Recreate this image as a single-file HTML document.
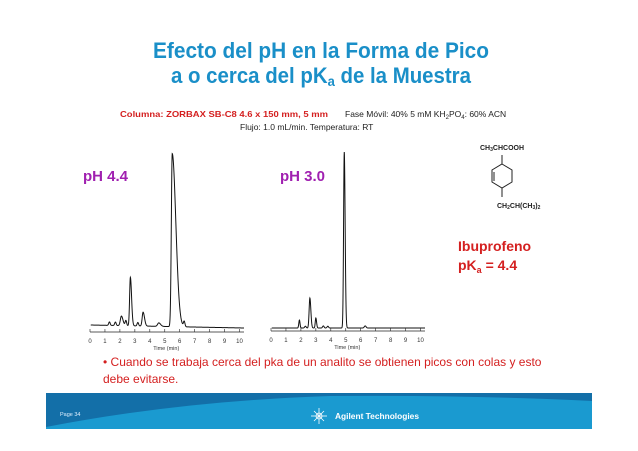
<!DOCTYPE html>
<html><head><meta charset="utf-8"><style>
body{margin:0;background:#fff;}
svg{display:block;font-family:"Liberation Sans",Arial,sans-serif;}
</style></head><body>
<svg id="s" width="638" height="451" viewBox="0 0 638 451" xmlns="http://www.w3.org/2000/svg">
<g fill="#1a8fc8" font-weight="bold" font-size="22" text-anchor="middle">
<text x="321" y="58" textLength="336" lengthAdjust="spacingAndGlyphs">Efecto del pH en la Forma de Pico</text>
<text x="321" y="83" textLength="300" lengthAdjust="spacingAndGlyphs">a o cerca del pK<tspan font-size="14" dy="3">a</tspan><tspan dy="-3"> de la Muestra</tspan></text>
</g>
<g font-size="8.5">
<text x="120" y="117" fill="#d42020" font-weight="bold" textLength="208" lengthAdjust="spacingAndGlyphs">Columna:  ZORBAX SB-C8  4.6 x 150 mm, 5 mm</text>
<text x="345" y="117" fill="#222">Fase Móvil:  40% 5 mM KH<tspan font-size="6" dy="2">2</tspan><tspan dy="-2">PO</tspan><tspan font-size="6" dy="2">4</tspan><tspan dy="-2">: 60% ACN</tspan></text>
<text x="240" y="130" fill="#222">Flujo:  1.0 mL/min.     Temperatura:  RT</text>
</g>
<g><text x="83" y="181" fill="#a020b0" font-weight="bold" font-size="15">pH 4.4</text></g>
<g><text x="280" y="181" fill="#a020b0" font-weight="bold" font-size="15">pH 3.0</text></g>
<g stroke="#222" fill="none" stroke-width="1">
<text x="480" y="150" font-size="7" font-weight="bold" fill="#222" stroke="none">CH<tspan font-size="5" dy="1">3</tspan><tspan dy="-1">CHCOOH</tspan></text>
<line x1="502" y1="155" x2="502" y2="164"/>
<polygon points="502,164 512,170 512,182 502,188 492,182 492,170"/>
<line x1="494" y1="172" x2="494" y2="181"/>
<line x1="502" y1="188" x2="502" y2="197"/>
<text x="497" y="208" font-size="7" font-weight="bold" fill="#222" stroke="none">CH<tspan font-size="5" dy="1">2</tspan><tspan dy="-1">CH(CH</tspan><tspan font-size="5" dy="1">3</tspan><tspan dy="-1">)</tspan><tspan font-size="5" dy="1">2</tspan></text>
</g>
<g fill="#d42020" font-weight="bold" font-size="14">
<text x="458" y="251">Ibuprofeno</text>
<text x="458" y="270">pK<tspan font-size="9" dy="3">a</tspan><tspan dy="-3"> = 4.4</tspan></text>
</g>
<g id="c1"></g>
<g id="c2"></g>
<g fill="#d42020" font-size="12">
<text x="103" y="366">• Cuando se trabaja cerca del pka de un analito se obtienen picos con colas y esto</text>
<text x="103" y="383">debe evitarse.</text>
</g>
<g>
<rect x="46" y="393" width="546" height="36" fill="#1a9ad0"/>
<path d="M46,393 L592,393 L592,401 Q470,395 330,396 Q180,401 46,427 Z" fill="#136fa8"/>
<text x="60" y="416" font-size="5.5" fill="#e0f0ff">Page 34</text>
<g stroke="#fff" stroke-width="0.8"><circle cx="319" cy="416" r="3" fill="none"/><line x1="311" y1="416" x2="327" y2="416"/><line x1="319" y1="408" x2="319" y2="424"/><line x1="314" y1="411" x2="324" y2="421"/><line x1="324" y1="411" x2="314" y2="421"/></g>
<text x="335" y="419" font-size="8" font-weight="bold" fill="#fff" textLength="84" lengthAdjust="spacingAndGlyphs">Agilent Technologies</text>
</g>
</svg>
<script>
// chromatogram data: retention time (min), relative height, width sigma (min), tail factor
const times44 = [1.3, 1.7, 2.1, 2.4, 2.7, 3.2, 3.55, 4.6, 5.5, 6.3];
const heights44 = [0.02, 0.02, 0.055, 0.03, 0.28, 0.02, 0.08, 0.02, 1.0, 0.03];
const widths44 = [0.05, 0.05, 0.07, 0.05, 0.05, 0.05, 0.06, 0.08, 0.06, 0.05];
const tails44 = [1, 1, 1.5, 1, 1.6, 1, 1.6, 1.5, 4, 1];
const times30 = [1.9, 2.3, 2.6, 3.0, 3.5, 3.8, 4.9, 6.3];
const heights30 = [0.045, 0.01, 0.17, 0.057, 0.012, 0.01, 1.0, 0.012];
const widths30 = [0.04, 0.05, 0.05, 0.04, 0.05, 0.05, 0.045, 0.06];
const tails30 = [1, 1, 1.3, 1.2, 1, 1, 1.3, 1];
const xTicks = [0,1,2,3,4,5,6,7,8,9,10];
const NS='http://www.w3.org/2000/svg';
function chart(g, x0, x1, base0, base1, top, axisY, times, heights, widths, tails){
  const sx = t => x0 + (x1-x0)*t/10.3;
  const h = base0 - top;
  let d='';
  for(let t=0.05;t<=10.3;t+=0.01){
    let v=0;
    for(let i=0;i<times.length;i++){
      const dt=t-times[i];
      const s = dt<0 ? widths[i] : widths[i]*tails[i];
      v+=heights[i]*Math.exp(-dt*dt/(2*s*s));
    }
    const b = base0+(base1-base0)*t/10.3;
    d+=(d?'L':'M')+sx(t).toFixed(2)+','+(b - v*h).toFixed(2);
  }
  const p=document.createElementNS(NS,'path');
  
  
  p.setAttribute('d',d);p.setAttribute('fill','none');p.setAttribute('stroke','#111');p.setAttribute('stroke-width','1');
  g.appendChild(p);
  const ax=document.createElementNS(NS,'line');
  
  
  ax.setAttribute('x1',sx(0));ax.setAttribute('x2',sx(10.3));ax.setAttribute('y1',axisY);ax.setAttribute('y2',axisY);
  ax.setAttribute('stroke','#222');ax.setAttribute('stroke-width','0.8');
  g.appendChild(ax);
  xTicks.forEach(v=>{
    const tk=document.createElementNS(NS,'line');
    
    
    tk.setAttribute('x1',sx(v));tk.setAttribute('x2',sx(v));tk.setAttribute('y1',axisY);tk.setAttribute('y2',axisY-3);
    tk.setAttribute('stroke','#222');tk.setAttribute('stroke-width','0.6');
    g.appendChild(tk);
    const tx=document.createElementNS(NS,'text');
    
    
    tx.setAttribute('x',sx(v));tx.setAttribute('y',axisY+11);tx.setAttribute('font-size','6');
    tx.setAttribute('text-anchor','middle');tx.setAttribute('fill','#333');tx.textContent=v;
    g.appendChild(tx);
  });
  const tt=document.createElementNS(NS,'text');
  
  
  tt.setAttribute('x',sx(5.1));tt.setAttribute('y',axisY+18);tt.setAttribute('font-size','5.5');
  tt.setAttribute('text-anchor','middle');tt.setAttribute('fill','#333');tt.textContent='Time (min)';
  g.appendChild(tt);
}
chart(document.getElementById('c1'),90,244,325,328,152,332,times44,heights44,widths44,tails44);
chart(document.getElementById('c2'),271,425,328,328,152,331,times30,heights30,widths30,tails30);
</script>
</body></html>
